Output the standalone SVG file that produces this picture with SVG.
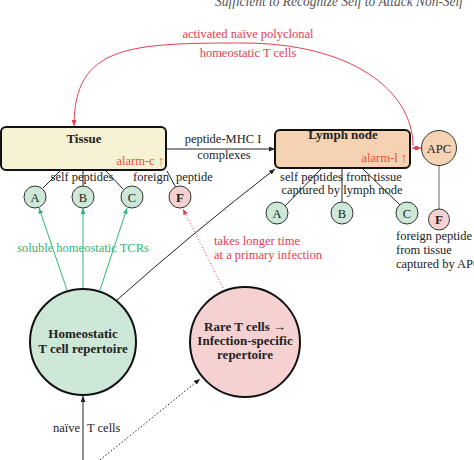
<svg xmlns="http://www.w3.org/2000/svg" width="474" height="460" viewBox="0 0 474 460">
<style>
text{font-family:"Liberation Serif","DejaVu Serif",serif;font-size:12.5px;fill:#222}
.b{font-weight:bold;font-size:13px}
.red{fill:#e2414f}
.alarm{fill:#e8503a}
.grn{fill:#33b574}
.mid{text-anchor:middle}
.box{stroke:#111;stroke-width:2}
.sm{stroke:#333;stroke-width:1}
.big{stroke:#111;stroke-width:2}
.gfill{fill:#cde8d7}
.pfill{fill:#f6d1d1}
.ofill{fill:#f5d2b2}
.ln{stroke:#222;stroke-width:1;fill:none}
.gl{stroke:#33b574;stroke-width:1;fill:none}
.rl{stroke:#e2414f;stroke-width:1;fill:none}
</style>
<defs>
<marker id="ak" markerUnits="userSpaceOnUse" markerWidth="6" markerHeight="5" refX="6" refY="2.5" orient="auto"><path d="M0,0 L6,2.5 L0,5 z" fill="#222"/></marker>
<marker id="ag" markerUnits="userSpaceOnUse" markerWidth="6" markerHeight="5" refX="6" refY="2.5" orient="auto"><path d="M0,0 L6,2.5 L0,5 z" fill="#33b574"/></marker>
<marker id="ar" markerUnits="userSpaceOnUse" markerWidth="6" markerHeight="5" refX="6" refY="2.5" orient="auto-start-reverse"><path d="M0,0 L6,2.5 L0,5 z" fill="#e2414f"/></marker>
</defs>

<text x="215" y="6" textLength="248" lengthAdjust="spacingAndGlyphs" style="font-style:italic;font-size:15px;fill:#555">Sufficient to Recognize Self to Attack Non-Self</text>

<g id="connectors">
<path class="rl" d="M413 146 C413 90, 350 43, 243 43 C130 43, 74 45, 74 126" marker-end="url(#ar)"/>
<line class="rl" x1="412" y1="148" x2="421" y2="148" marker-start="url(#ar)" marker-end="url(#ar)"/>
<line class="ln" x1="166" y1="149" x2="275" y2="149" marker-end="url(#ak)"/>
<line class="ln" x1="60" y1="171" x2="43" y2="188"/>
<line class="ln" x1="83" y1="171" x2="83" y2="186"/>
<line class="ln" x1="106" y1="171" x2="123" y2="189"/>
<line class="ln" x1="167" y1="171" x2="176" y2="188"/>
<line class="ln" x1="322" y1="168" x2="285" y2="206"/>
<line class="ln" x1="342" y1="168" x2="342" y2="202"/>
<line class="ln" x1="362" y1="168" x2="400" y2="205"/>
<line x1="439" y1="166" x2="439" y2="209" stroke="#666" stroke-width="1"/>
<line class="gl" x1="67" y1="290" x2="39" y2="208" marker-end="url(#ag)"/>
<line class="gl" x1="83" y1="290" x2="83" y2="208" marker-end="url(#ag)"/>
<line class="gl" x1="100" y1="290" x2="127" y2="208" marker-end="url(#ag)"/>
<path class="ln" d="M117 300 Q190 235 275 169" marker-end="url(#ak)"/>
<line class="rl" x1="223" y1="288" x2="183" y2="209" stroke-dasharray="1 2" marker-end="url(#ar)"/>
<line class="ln" x1="100" y1="460" x2="200" y2="379" stroke-dasharray="1.5 2" marker-end="url(#ak)"/>
<line class="ln" x1="83" y1="460" x2="83" y2="396" marker-end="url(#ak)"/>
</g>

<g id="labels">
<text class="red mid" x="248" y="38">activated naïve polyclonal</text>
<text class="red mid" x="248" y="57">homeostatic T cells</text>
<text class="mid" x="223" y="143">peptide-MHC I</text>
<text class="mid" x="224" y="159">complexes</text>
<text class="mid" x="82" y="181">self peptides</text>
<text x="133" y="181">foreign</text>
<text x="176" y="181">peptide</text>
<text class="mid" x="341" y="181">self peptides from tissue</text>
<text class="mid" x="342" y="194">captured by lymph node</text>
<text x="396" y="240">foreign peptide</text>
<text x="396" y="254">from tissue</text>
<text x="396" y="268">captured by APC</text>
<text class="grn mid" x="83" y="252">soluble homeostatic TCRs</text>
<text class="red" x="214" y="245">takes longer time</text>
<text class="red" x="214" y="259">at a primary infection</text>
<text x="53" y="432">naïve</text>
<text x="87" y="432">T cells</text>
</g>

<g id="tissue">
<rect class="box" x="1" y="127" width="165" height="43" rx="5" fill="#f5f3d3"/>
<text class="b mid" x="84" y="143">Tissue</text>
<text class="alarm" x="164" y="165" text-anchor="end">alarm-c ↑</text>
</g>
<g id="lymphnode">
<rect class="box" x="275" y="130" width="135" height="38" rx="5" fill="#f5d2b2"/>
<text class="b mid" x="343" y="139">Lymph node</text>
<text class="alarm" x="407" y="162" text-anchor="end">alarm-l ↑</text>
</g>
<g id="apc">
<circle class="sm ofill" cx="439" cy="148" r="17.5"/>
<text class="mid" x="439" y="152.5">APC</text>
</g>
<g id="tA"><circle class="sm gfill" cx="35" cy="197" r="11"/><text class="mid" x="35" y="201.5">A</text></g>
<g id="tB"><circle class="sm gfill" cx="83" cy="197" r="11"/><text class="mid" x="83" y="201.5">B</text></g>
<g id="tC"><circle class="sm gfill" cx="132" cy="197" r="11"/><text class="mid" x="132" y="201.5">C</text></g>
<g id="tF"><circle class="sm pfill" cx="180" cy="197" r="11"/><text class="b mid" x="180" y="201.5">F</text></g>
<g id="lA"><circle class="sm gfill" cx="277" cy="213" r="11"/><text class="mid" x="277" y="217.5">A</text></g>
<g id="lB"><circle class="sm gfill" cx="342" cy="213" r="11"/><text class="mid" x="342" y="217.5">B</text></g>
<g id="lC"><circle class="sm gfill" cx="407" cy="213" r="11"/><text class="mid" x="407" y="217.5">C</text></g>
<g id="aF"><circle class="sm pfill" cx="439" cy="219.5" r="10.5"/><text class="b mid" x="439" y="224">F</text></g>
<g id="homeostatic">
<circle class="big gfill" cx="83" cy="342" r="53"/>
<text class="b mid" x="83" y="338">Homeostatic</text>
<text class="b mid" x="83" y="353">T cell repertoire</text>
</g>
<g id="rare">
<circle class="big pfill" cx="245" cy="342" r="55"/>
<text class="b mid" x="245" y="331">Rare T cells →</text>
<text class="b mid" x="245" y="345">Infection-specific</text>
<text class="b mid" x="245" y="359">repertoire</text>
</g>
</svg>
